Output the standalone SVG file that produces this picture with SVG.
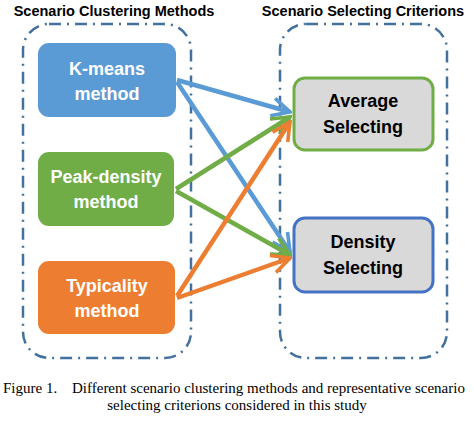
<svg xmlns="http://www.w3.org/2000/svg" width="474" height="440" viewBox="0 0 474 440">
<style>
.title{font-family:"Liberation Sans",Arial,sans-serif;font-weight:bold;font-size:14.5px;fill:#000}
.ct{fill:none;stroke:#41719c;stroke-width:2.5;stroke-dasharray:12 6 2 6}
.wt{font-family:"Liberation Sans",Arial,sans-serif;font-weight:bold;font-size:18px;fill:#fff;text-anchor:middle}
.bt{font-family:"Liberation Sans",Arial,sans-serif;font-weight:bold;font-size:18px;fill:#000;text-anchor:middle}
.cap{font-family:"Liberation Serif","Times New Roman",serif;font-size:15px;fill:#000}
.ln{fill:none;stroke-width:4.5}
</style>
<defs>
<marker id="mb" viewBox="0 0 10 10" refX="9" refY="5" markerWidth="5" markerHeight="5" orient="auto" markerUnits="strokeWidth"><path d="M1,1 L9,5 L1,9" fill="none" stroke="#5b9bd5" stroke-width="1.6"/></marker>
<marker id="mg" viewBox="0 0 10 10" refX="9" refY="5" markerWidth="5" markerHeight="5" orient="auto" markerUnits="strokeWidth"><path d="M1,1 L9,5 L1,9" fill="none" stroke="#70ad47" stroke-width="1.6"/></marker>
<marker id="mo" viewBox="0 0 10 10" refX="9" refY="5" markerWidth="5" markerHeight="5" orient="auto" markerUnits="strokeWidth"><path d="M1,1 L9,5 L1,9" fill="none" stroke="#ed7d31" stroke-width="1.6"/></marker>
</defs>
<rect width="474" height="440" fill="#fff"/>
<g id="titles">
<text class="title" x="114" y="16" text-anchor="middle">Scenario Clustering Methods</text>
<text class="title" x="363" y="16" text-anchor="middle">Scenario Selecting Criterions</text>
</g>
<g id="containers">
<rect class="ct" x="23" y="24" width="168" height="334" rx="26"/>
<rect class="ct" x="280" y="24" width="167" height="334" rx="26"/>
</g>
<g id="connectors">
<line class="ln" stroke="#5b9bd5" x1="177" y1="80" x2="290" y2="112" marker-end="url(#mb)"/>
<line class="ln" stroke="#5b9bd5" x1="177" y1="82" x2="290" y2="252" marker-end="url(#mb)"/>
<line class="ln" stroke="#70ad47" x1="176" y1="189" x2="290" y2="117" marker-end="url(#mg)"/>
<line class="ln" stroke="#70ad47" x1="176" y1="191" x2="290" y2="255" marker-end="url(#mg)"/>
<line class="ln" stroke="#ed7d31" x1="177" y1="296" x2="290" y2="122" marker-end="url(#mo)"/>
<line class="ln" stroke="#ed7d31" x1="177" y1="298" x2="290" y2="258" marker-end="url(#mo)"/>
</g>
<g id="kmeans">
<rect x="38" y="43" width="138" height="74" rx="11" fill="#5b9bd5"/>
<text class="wt" x="107" y="75">K-means</text>
<text class="wt" x="107" y="100">method</text>
</g>
<g id="peak">
<rect x="38" y="152" width="136" height="74" rx="11" fill="#70ad47"/>
<text class="wt" x="106" y="183">Peak-density</text>
<text class="wt" x="106" y="208">method</text>
</g>
<g id="typicality">
<rect x="38" y="261" width="137" height="73" rx="11" fill="#ed7d31"/>
<text class="wt" x="107" y="292">Typicality</text>
<text class="wt" x="107" y="317">method</text>
</g>
<g id="average">
<rect x="294" y="78" width="139" height="72" rx="11" fill="#d9d9d9" stroke="#70ad47" stroke-width="3"/>
<text class="bt" x="363" y="107">Average</text>
<text class="bt" x="363" y="133">Selecting</text>
</g>
<g id="density">
<rect x="294" y="218" width="139" height="74" rx="11" fill="#d9d9d9" stroke="#4472c4" stroke-width="3"/>
<text class="bt" x="363" y="248">Density</text>
<text class="bt" x="363" y="274">Selecting</text>
</g>
<g id="caption">
<text class="cap" x="3" y="393">Figure 1.</text>
<text class="cap" x="72" y="393">Different scenario clustering methods and representative scenario</text>
<text class="cap" x="237" y="410" text-anchor="middle">selecting criterions considered in this study</text>
</g>
</svg>
